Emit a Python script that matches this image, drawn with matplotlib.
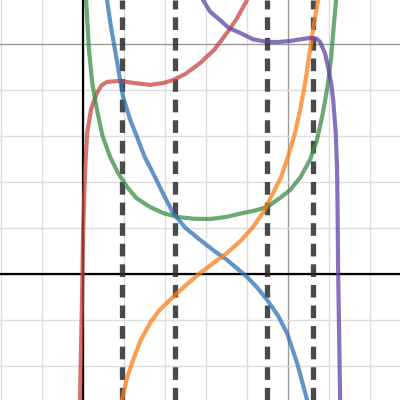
import matplotlib
matplotlib.use("Agg")
import matplotlib.pyplot as plt
import numpy as np

# curves (data units)
red_x = [-0.015, -0.005, 0.0, 0.01, 0.02, 0.04, 0.068, 0.09, 0.117, 0.18, 0.25, 0.327, 0.39, 0.439, 0.5, 0.571, 0.64, 0.702, 0.75, 0.8]
red_y = [-0.548, -0.113, 0.178, 0.45, 0.613, 0.72, 0.787, 0.82, 0.835, 0.839, 0.83, 0.822, 0.83, 0.843, 0.87, 0.917, 0.975, 1.048, 1.11, 1.191]
green_x = [0.015, 0.029, 0.045, 0.068, 0.095, 0.132, 0.17, 0.215, 0.26, 0.327, 0.39, 0.459, 0.54, 0.62, 0.7, 0.78, 0.84, 0.898, 0.96, 1.01, 1.06, 1.107, 1.14, 1.166, 1.18, 1.195, 1.21, 1.22, 1.234]
green_y = [1.191, 0.974, 0.83, 0.713, 0.6, 0.509, 0.44, 0.378, 0.33, 0.291, 0.265, 0.248, 0.24, 0.239, 0.248, 0.265, 0.276, 0.291, 0.33, 0.365, 0.42, 0.496, 0.58, 0.683, 0.75, 0.83, 0.94, 1.048, 1.191]
blue_x = [0.117, 0.135, 0.156, 0.195, 0.23, 0.263, 0.3, 0.341, 0.39, 0.439, 0.5, 0.571, 0.64, 0.702, 0.75, 0.8, 0.85, 0.898, 0.95, 0.995, 1.045, 1.093]
blue_y = [1.191, 1.08, 0.974, 0.77, 0.67, 0.596, 0.51, 0.439, 0.35, 0.265, 0.2, 0.148, 0.1, 0.061, 0.025, -0.013, -0.06, -0.113, -0.18, -0.257, -0.39, -0.548]
orange_x = [0.19, 0.215, 0.244, 0.28, 0.327, 0.37, 0.424, 0.5, 0.571, 0.64, 0.702, 0.77, 0.829, 0.88, 0.927, 0.965, 0.995, 1.03, 1.059, 1.085, 1.107, 1.125, 1.146]
orange_y = [-0.548, -0.45, -0.374, -0.29, -0.213, -0.16, -0.113, -0.05, 0.004, 0.05, 0.091, 0.145, 0.204, 0.27, 0.352, 0.42, 0.496, 0.6, 0.713, 0.84, 0.974, 1.08, 1.191]
purple_x = [0.585, 0.62, 0.668, 0.71, 0.766, 0.83, 0.898, 0.95, 1.01, 1.06, 1.107, 1.135, 1.156, 1.18, 1.195, 1.21, 1.22, 1.232, 1.239, 1.242, 1.244, 1.254]
purple_y = [1.191, 1.14, 1.104, 1.07, 1.048, 1.02, 1.009, 1.008, 1.013, 1.02, 1.026, 1.025, 1.009, 0.96, 0.9, 0.83, 0.757, 0.62, 0.465, 0.25, 0.03, -0.548]
asymptotes = [0.19, 0.449, 0.898, 1.12]

XMIN, XMAX = -0.405, 1.546
YMIN, YMAX = -0.548, 1.191

fig = plt.figure(figsize=(4, 4), dpi=100)
ax = fig.add_axes([0, 0, 1, 1])
ax.set_xlim(XMIN, XMAX)
ax.set_ylim(YMIN, YMAX)
ax.axis("off")

for v in np.arange(-0.4, 1.6, 0.2):
    major = abs(v - round(v)) < 1e-6
    ax.axvline(v, color="#999999" if major else "#dddddd", lw=1.0, zorder=0)
for v in np.arange(-0.4, 1.2, 0.2):
    major = abs(v - round(v)) < 1e-6
    ax.axhline(v, color="#999999" if major else "#dddddd", lw=1.0, zorder=0)
ax.axvline(0, color="black", lw=1.6, zorder=1)
ax.axhline(0, color="black", lw=1.6, zorder=1)

for x in asymptotes:
    ax.axvline(x, color="#2a2a2a", lw=3.8, ls=(0, (2.4, 1.5)), alpha=0.85, zorder=2)

kw = dict(lw=3.0, alpha=0.75, solid_joinstyle="round", solid_capstyle="round", zorder=3)
ax.plot(red_x, red_y, color="#c74440", **kw)
ax.plot(green_x, green_y, color="#388c46", **kw)
ax.plot(blue_x, blue_y, color="#2d70b3", **kw)
ax.plot(orange_x, orange_y, color="#fa7e19", **kw)
ax.plot(purple_x, purple_y, color="#6042a6", **kw)

fig.savefig("out.png", dpi=100)
